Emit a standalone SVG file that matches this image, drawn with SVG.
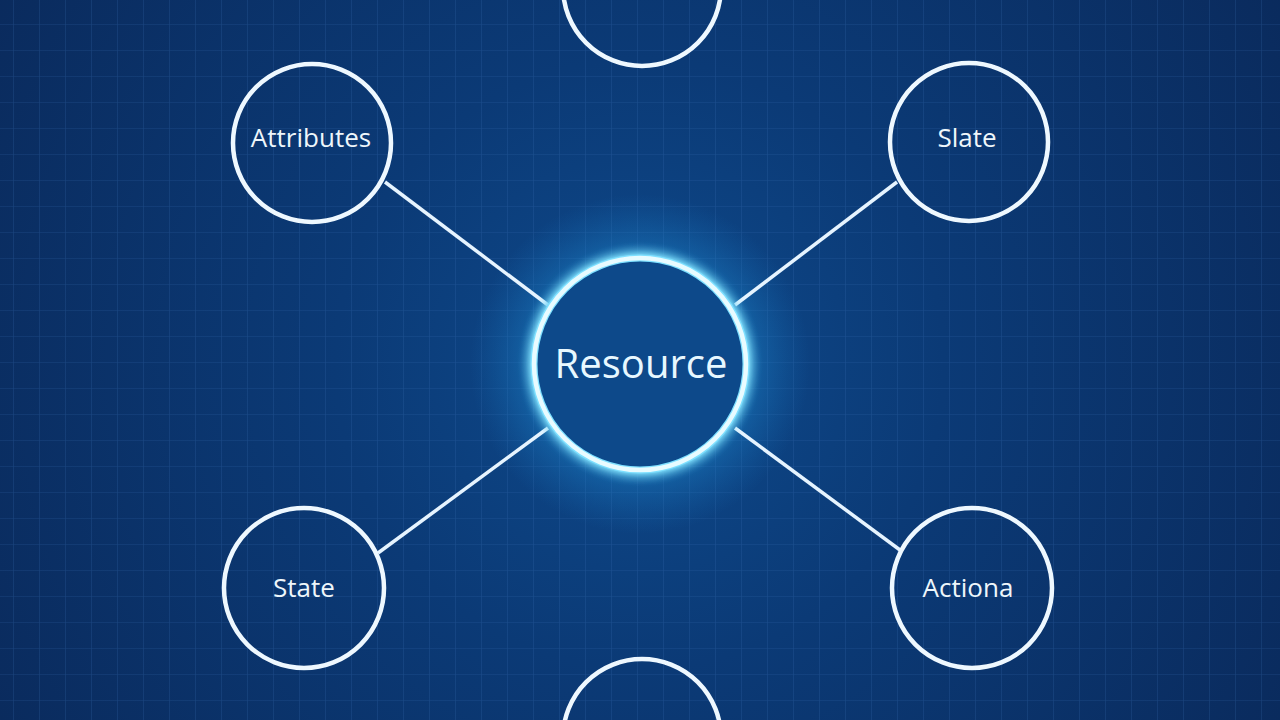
<svg xmlns="http://www.w3.org/2000/svg" width="1280" height="720" viewBox="0 0 1280 720">
  <defs>
    <radialGradient id="bg" cx="640" cy="364" r="760" gradientUnits="userSpaceOnUse">
      <stop offset="0" stop-color="#0e4a8c"/>
      <stop offset="0.4" stop-color="#0b3a76"/>
      <stop offset="1" stop-color="#0a2a5c"/>
    </radialGradient>
    <radialGradient id="halo" cx="640" cy="364" r="170" gradientUnits="userSpaceOnUse">
      <stop offset="0.55" stop-color="#33b8f0" stop-opacity="0.6"/>
      <stop offset="0.72" stop-color="#1f8fd8" stop-opacity="0.3"/>
      <stop offset="1" stop-color="#1a7cc8" stop-opacity="0"/>
    </radialGradient>
    <pattern id="grid" x="13" y="24" width="26" height="26" patternUnits="userSpaceOnUse">
      <path d="M0 0H26M0 0V26" fill="none" stroke="#3f78bd" stroke-opacity="0.3" stroke-width="1.2"/>
    </pattern>
    <filter id="glow" x="-50%" y="-50%" width="200%" height="200%">
      <feGaussianBlur in="SourceGraphic" stdDeviation="6" result="b1"/>
      <feGaussianBlur in="SourceGraphic" stdDeviation="2" result="b2"/>
      <feMerge>
        <feMergeNode in="b1"/>
        <feMergeNode in="b1"/>
        <feMergeNode in="b2"/>
        <feMergeNode in="SourceGraphic"/>
      </feMerge>
    </filter>
    <filter id="softglow" x="-50%" y="-50%" width="200%" height="200%">
      <feGaussianBlur in="SourceGraphic" stdDeviation="3" result="b"/>
      <feMerge>
        <feMergeNode in="b"/>
        <feMergeNode in="SourceGraphic"/>
      </feMerge>
    </filter>
    <style>
      .node { fill: none; stroke: #eef8ff; stroke-width: 4.5; }
      .label { font-family: "Open Sans", "Liberation Sans", sans-serif; font-size: 26px; fill: #eef6fb; text-anchor: middle; }
      .link { stroke: #e6f4ff; stroke-width: 3.5; fill: none; }
      .glowlink { stroke: #c8f2ff; stroke-width: 4; fill: none; }
    </style>
  </defs>

  <rect width="1280" height="720" fill="url(#bg)"/>
  <rect width="1280" height="720" fill="url(#grid)"/>
  <circle cx="640" cy="364" r="170" fill="url(#halo)"/>

  <g id="connectors">
    <line class="glowlink" x1="642" y1="66" x2="642" y2="258" filter="url(#softglow)"/>
    <line class="link" x1="385" y1="182" x2="548" y2="305"/>
    <line class="link" x1="897" y1="182" x2="735" y2="305"/>
    <line class="link" x1="378" y1="553" x2="548" y2="428"/>
    <line class="link" x1="900" y1="550" x2="735" y2="428"/>
    <line class="glowlink" x1="642" y1="470" x2="642" y2="659" filter="url(#softglow)"/>
  </g>

  <g id="node-top">
    <circle class="node" cx="642" cy="-13" r="79"/>
  </g>
  <g id="node-attributes">
    <circle class="node" cx="312" cy="143" r="79"/>
    <text class="label" x="311" y="147">Attributes</text>
  </g>
  <g id="node-state-top">
    <circle class="node" cx="969" cy="142" r="79"/>
    <text class="label" x="967" y="147">Slate</text>
  </g>
  <g id="node-state-bottom">
    <circle class="node" cx="304" cy="588" r="80"/>
    <text class="label" x="304" y="597">State</text>
  </g>
  <g id="node-actions">
    <circle class="node" cx="972" cy="588" r="80"/>
    <text class="label" x="968" y="597">Actiona</text>
  </g>
  <g id="node-bottom">
    <circle class="node" cx="642" cy="738" r="79"/>
  </g>
  <g id="node-resource">
    <circle cx="640" cy="364" r="106" fill="#0d4a8a" stroke="#7fe0ff" stroke-width="7" filter="url(#glow)"/>
    <circle cx="640" cy="364" r="106" fill="none" stroke="#e8fbff" stroke-width="4.5"/>
    <text x="641" y="378" font-family="'Open Sans', 'Liberation Sans', sans-serif" font-size="40" fill="#e8f8ff" text-anchor="middle">Resource</text>
  </g>
</svg>
